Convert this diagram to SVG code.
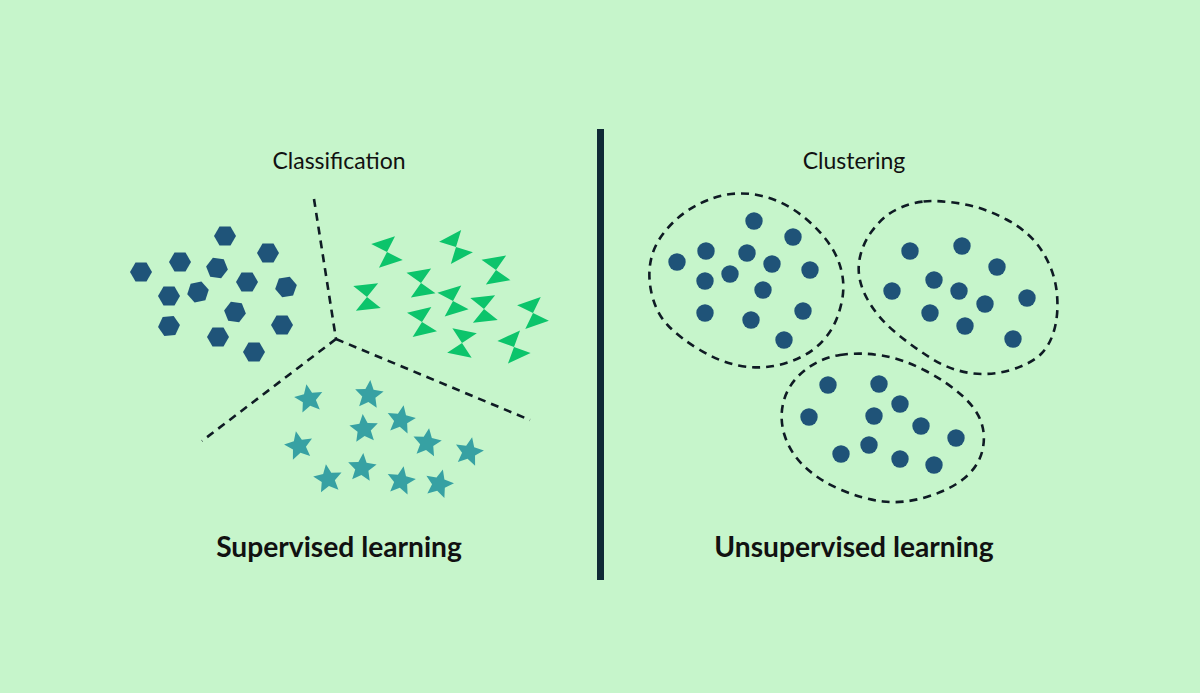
<svg xmlns="http://www.w3.org/2000/svg" width="1200" height="693" viewBox="0 0 1200 693">
<style>
.hex{fill:#1f5479}
.bow{fill:#0cc46b}
.star{fill:#37a1a3}
.dot{fill:#1f5378}
.dash{fill:none;stroke:#0f1b24;stroke-width:2.6;stroke-dasharray:8 6}
.title{font-family:Lato,"Noto Sans",sans-serif;font-size:23px;fill:#111;text-anchor:middle}
.big{font-family:Lato,"Noto Sans",sans-serif;font-size:28.2px;font-weight:700;fill:#111;text-anchor:middle}
</style>
<defs>
<polygon id="hex" points="11,0 5.5,9.53 -5.5,9.53 -11,0 -5.5,-9.53 5.5,-9.53"/>
<path id="bow" d="M-12.5,-12.5 L12.5,-12.5 L0,0 Z M0,0 L12.5,12.5 L-12.5,12.5 Z"/>
<polygon id="star" points="0,-15 4.1,-5.64 14.27,-4.64 6.62,2.15 8.82,12.14 0,6.96 -8.82,12.14 -6.62,2.15 -14.27,-4.64 -4.1,-5.64"/>
</defs>
<rect width="1200" height="693" fill="#c6f5cb"/>

<g id="supervised">
<text class="title" x="339" y="169">Classification</text>
<text class="big" x="339" y="557">Supervised learning</text>
<g id="partition">
<path class="dash" d="M314,199 L336,339 M336,339 L530,420 M336,339 L202,441"/>
</g>
<g id="hexagons" class="hex">
<use href="#hex" transform="translate(225 236)"/>
<use href="#hex" transform="translate(268 253)"/>
<use href="#hex" transform="translate(180 262)"/>
<use href="#hex" transform="translate(141 272)"/>
<use href="#hex" transform="translate(217 268) rotate(8)"/>
<use href="#hex" transform="translate(247 282)"/>
<use href="#hex" transform="translate(286 287) rotate(-10)"/>
<use href="#hex" transform="translate(169 296)"/>
<use href="#hex" transform="translate(198 292) rotate(-12)"/>
<use href="#hex" transform="translate(235 312) rotate(8)"/>
<use href="#hex" transform="translate(282 325)"/>
<use href="#hex" transform="translate(169 326) rotate(-5)"/>
<use href="#hex" transform="translate(218 337)"/>
<use href="#hex" transform="translate(254 352)"/>
</g>
<g id="bowties" class="bow">
<use href="#bow" transform="translate(387 252) rotate(-18)"/>
<use href="#bow" transform="translate(456 247) rotate(-28)"/>
<use href="#bow" transform="translate(496 270) rotate(-10)"/>
<use href="#bow" transform="translate(421 283) rotate(-10)"/>
<use href="#bow" transform="translate(367 297) rotate(-6)"/>
<use href="#bow" transform="translate(453 301) rotate(-17)"/>
<use href="#bow" transform="translate(484 309) rotate(-6)"/>
<use href="#bow" transform="translate(533 313) rotate(-19)"/>
<use href="#bow" transform="translate(422 322) rotate(-13)"/>
<use href="#bow" transform="translate(462 343) rotate(12)"/>
<use href="#bow" transform="translate(514 347) rotate(-25)"/>
</g>
<g id="stars" class="star">
<use href="#star" transform="translate(309 399) rotate(-10)"/>
<use href="#star" transform="translate(369 395) rotate(5)"/>
<use href="#star" transform="translate(364 429) rotate(-5)"/>
<use href="#star" transform="translate(401 420) rotate(10)"/>
<use href="#star" transform="translate(299 446) rotate(-12)"/>
<use href="#star" transform="translate(427 443) rotate(8)"/>
<use href="#star" transform="translate(469 452) rotate(12)"/>
<use href="#star" transform="translate(328 479) rotate(-8)"/>
<use href="#star" transform="translate(362 468) rotate(5)"/>
<use href="#star" transform="translate(401 481) rotate(10)"/>
<use href="#star" transform="translate(439 484) rotate(15)"/>
</g>
</g>

<g id="divider">
<rect x="597" y="129" width="7" height="451" fill="#0f2a35"/>
</g>

<g id="unsupervised">
<text class="title" x="854" y="169">Clustering</text>
<text class="big" x="854" y="557">Unsupervised learning</text>
<g id="cluster1">
<path class="dash" d="M713.5,198 Q737,190 762,196 Q787,202 808.5,221 Q830,240 838,260 Q846,280 842,300.5 Q838,321 828,334.5 Q818,348 804,355.5 Q790,363 773.5,366 Q757,369 738.5,365.5 Q720,362 700,350 Q680,338 668,325.5 Q656,313 651.5,293 Q647,273 652,255.5 Q657,238 673.5,222 Q690,206 713.5,198 Z"/>
<g class="dot">
<circle cx="754" cy="221" r="8.7"/>
<circle cx="793" cy="237" r="8.7"/>
<circle cx="706" cy="251" r="8.7"/>
<circle cx="677" cy="262" r="8.7"/>
<circle cx="747" cy="253" r="8.7"/>
<circle cx="772" cy="264" r="8.7"/>
<circle cx="810" cy="270" r="8.7"/>
<circle cx="705" cy="281" r="8.7"/>
<circle cx="730" cy="274" r="8.7"/>
<circle cx="763" cy="290" r="8.7"/>
<circle cx="705" cy="313" r="8.7"/>
<circle cx="803" cy="311" r="8.7"/>
<circle cx="751" cy="320" r="8.7"/>
<circle cx="784" cy="340" r="8.7"/>
</g>
</g>
<g id="cluster2">
<path class="dash" d="M923.5,201.5 Q937,200 960,203.5 Q983,207 1006.5,219.5 Q1030,232 1042,251 Q1054,270 1056.5,290 Q1059,310 1055,327 Q1051,344 1041,354 Q1031,364 1010.5,370 Q990,376 970,373 Q950,370 931.5,358.5 Q913,347 895,332 Q877,317 867,298.5 Q857,280 859,263 Q861,246 872,231 Q883,216 896.5,209.5 Q910,203 923.5,201.5 Z"/>
<g class="dot">
<circle cx="910" cy="251" r="8.7"/>
<circle cx="962" cy="246" r="8.7"/>
<circle cx="997" cy="267" r="8.7"/>
<circle cx="934" cy="280" r="8.7"/>
<circle cx="892" cy="291" r="8.7"/>
<circle cx="959" cy="291" r="8.7"/>
<circle cx="985" cy="304" r="8.7"/>
<circle cx="1027" cy="298" r="8.7"/>
<circle cx="930" cy="313" r="8.7"/>
<circle cx="965" cy="326" r="8.7"/>
<circle cx="1013" cy="339" r="8.7"/>
</g>
</g>
<g id="cluster3">
<path class="dash" d="M840,355 Q860,352 881.5,355.5 Q903,359 925,370.5 Q947,382 962,395.5 Q977,409 981.5,423 Q986,437 982,452 Q978,467 964,478.5 Q950,490 926.5,497 Q903,504 883,501.5 Q863,499 841.5,490 Q820,481 805,467 Q790,453 784.5,435 Q779,417 784,400 Q789,383 804.5,370.5 Q820,358 840,355 Z"/>
<g class="dot">
<circle cx="828" cy="385" r="8.7"/>
<circle cx="879" cy="384" r="8.7"/>
<circle cx="900" cy="404" r="8.7"/>
<circle cx="809" cy="417" r="8.7"/>
<circle cx="874" cy="416" r="8.7"/>
<circle cx="921" cy="426" r="8.7"/>
<circle cx="956" cy="438" r="8.7"/>
<circle cx="869" cy="445" r="8.7"/>
<circle cx="841" cy="454" r="8.7"/>
<circle cx="900" cy="459" r="8.7"/>
<circle cx="934" cy="465" r="8.7"/>
</g>
</g>
</g>
</svg>
